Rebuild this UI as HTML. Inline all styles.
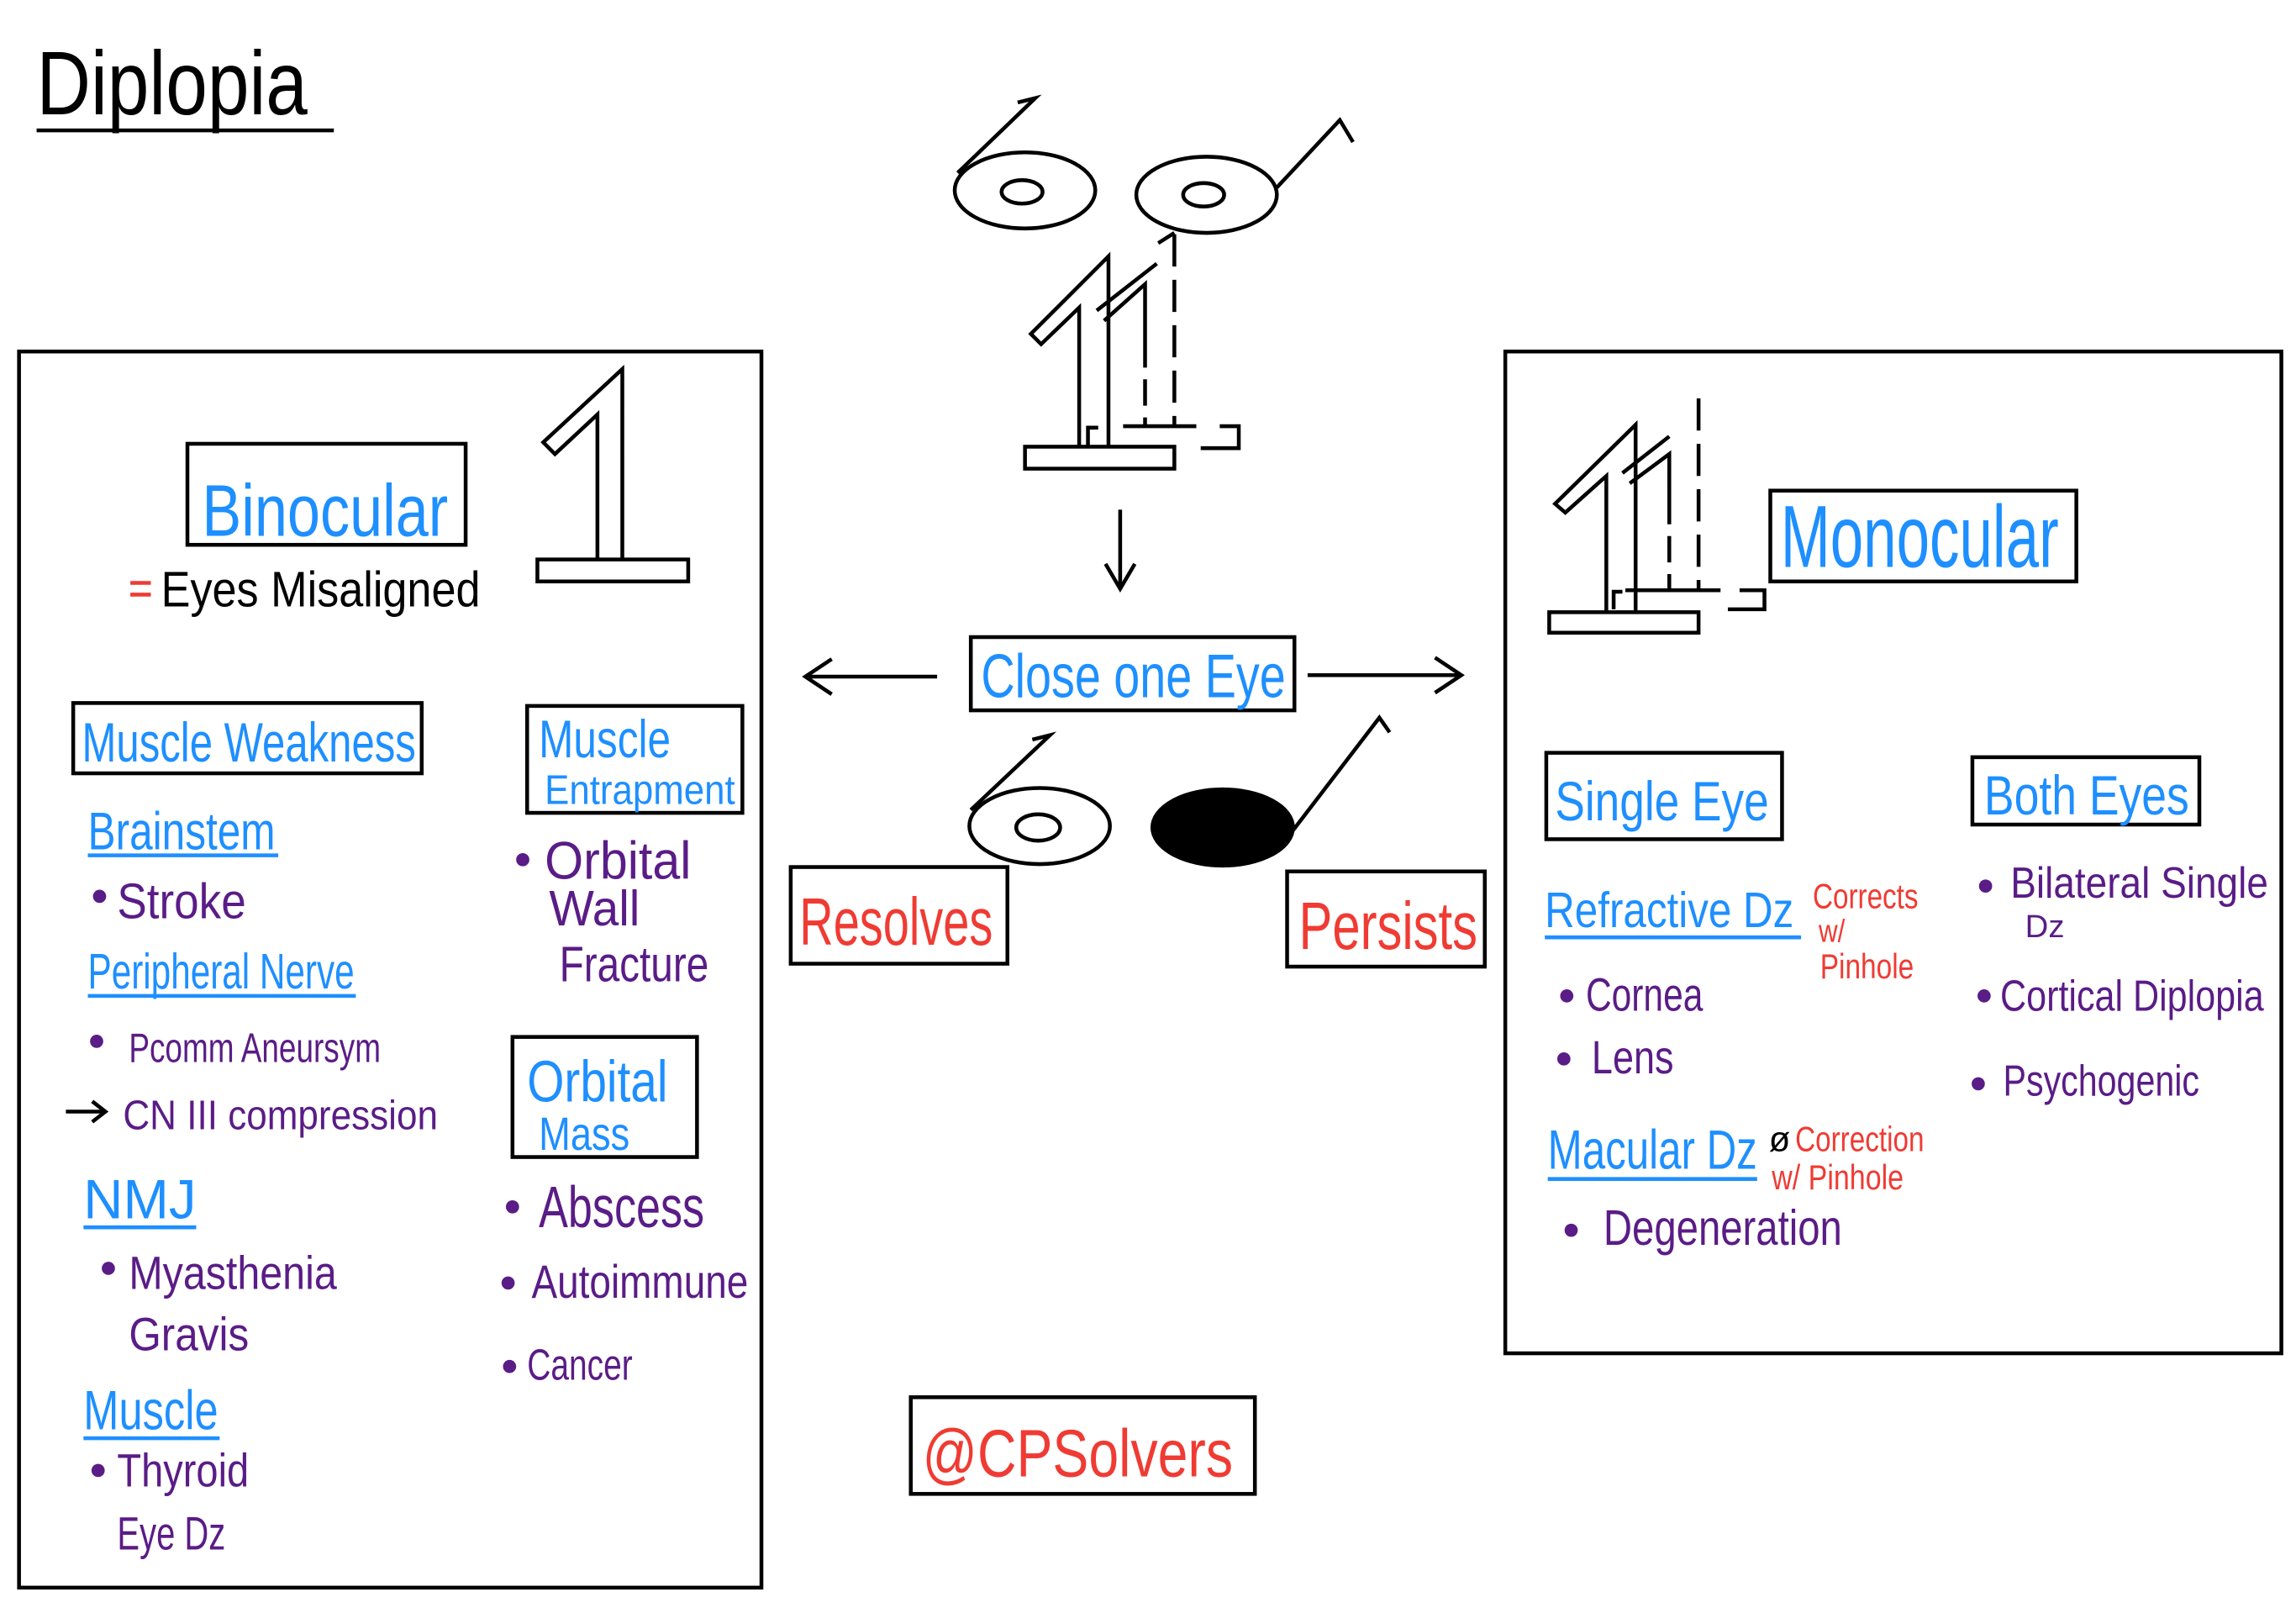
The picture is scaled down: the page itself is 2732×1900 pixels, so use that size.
<!DOCTYPE html>
<html><head><meta charset="utf-8"><style>
html,body{margin:0;padding:0;background:#fff;}
svg{display:block;}
text{font-family:"Liberation Sans",sans-serif;}
.b{fill:#1e8fff}.p{fill:#5a1c86}.r{fill:#ef3b33}.k{fill:#000}
</style></head><body>
<svg width="2732" height="1900" viewBox="0 0 1568 1090.4" preserveAspectRatio="none" xmlns="http://www.w3.org/2000/svg">
<g fill="none" stroke="#000" stroke-width="2.6" stroke-linejoin="miter">
<!-- frames -->
<rect x="13" y="240" width="507" height="844"/>
<rect x="1028" y="240" width="530" height="684"/>
<line x1="25" y1="89" x2="228" y2="89"/>
<!-- boxes -->
<rect x="128" y="303" width="190" height="69"/>
<rect x="50" y="480" width="238" height="48"/>
<rect x="360" y="482" width="147" height="73"/>
<rect x="350" y="708" width="126" height="82"/>
<rect x="663" y="435" width="221" height="50"/>
<rect x="540" y="592" width="148" height="66"/>
<rect x="879" y="595" width="135" height="65"/>
<rect x="622" y="954" width="235" height="66"/>
<rect x="1209" y="335" width="209" height="62"/>
<rect x="1056" y="514" width="161" height="59"/>
<rect x="1347" y="517" width="155" height="46"/>
<!-- big 1 left -->
<path d="M408,382 L408,283 L379,310 L371,302 L425,252 L425,382"/>
<rect x="367" y="382" width="103" height="15"/>
<!-- top eyes -->
<ellipse cx="700" cy="130" rx="48" ry="26"/>
<ellipse cx="698" cy="131" rx="14" ry="8"/>
<ellipse cx="824" cy="133" rx="48" ry="26"/>
<ellipse cx="822" cy="133" rx="14" ry="8"/>
<polyline points="654,118 707,67 695,70"/>
<polyline points="872,128 915,82 924,97"/>
<!-- center 11 -->
<path d="M737,305 L737,210 L711,235 L704,228 L757,175 L757,305"/>
<path d="M749,212 L790,180 M754,219 L782,194 L782,233"/>
<line x1="782" y1="233" x2="782" y2="290" stroke-dasharray="18,8"/>
<line x1="802" y1="160" x2="802" y2="290" stroke-dasharray="22,9"/>
<polyline points="791,166 802,159"/>
<rect x="700" y="305" width="102" height="15"/>
<line x1="767" y1="291" x2="817" y2="291"/>
<polyline points="820,306 846,306 846,291 833,291"/>
<polyline points="743,305 743,292 750,292"/>
<!-- arrows -->
<line x1="765" y1="348" x2="765" y2="402"/>
<polyline points="755,385 765,402 775,385"/>
<line x1="640" y1="462" x2="550" y2="462"/>
<polyline points="568,450 550,462 568,474"/>
<line x1="893" y1="461" x2="998" y2="461"/>
<polyline points="980,449 998,461 980,473"/>
<polyline points="45,759 72,759"/>
<polyline points="63,752 72,759 63,766"/>
<!-- bottom eyes -->
<ellipse cx="710" cy="564" rx="48" ry="26"/>
<ellipse cx="709" cy="565" rx="15" ry="9"/>
<polyline points="663,553 717,502 705,505"/>
<ellipse cx="835" cy="565" rx="48" ry="26" fill="#000"/>
<polyline points="883,567 942,490 949,500"/>
<!-- right 11 -->
<path d="M1097,418 L1097,325 L1069,350 L1062,344 L1117,290 L1117,418"/>
<path d="M1108,323 L1140,298 M1113,330 L1140,310 L1140,340"/>
<line x1="1140" y1="340" x2="1140" y2="403" stroke-dasharray="18,8"/>
<line x1="1160" y1="272" x2="1160" y2="403" stroke-dasharray="22,9"/>
<rect x="1058" y="418" width="102" height="14"/>
<line x1="1110" y1="403" x2="1175" y2="403"/>
<polyline points="1180,416 1205,416 1205,403 1188,403"/>
<polyline points="1102,416 1102,404 1108,404"/>
</g>
<!-- underlines -->
<g stroke="#1e8fff" stroke-width="2.6">
<line x1="60" y1="584" x2="190" y2="584"/>
<line x1="60" y1="680" x2="243" y2="680"/>
<line x1="57" y1="838" x2="134" y2="838"/>
<line x1="57" y1="982" x2="150" y2="982"/>
<line x1="1055" y1="640" x2="1230" y2="640"/>
<line x1="1057" y1="805" x2="1200" y2="805"/>
</g>
<g stroke="#ef3b33" stroke-width="2.6"><line x1="89" y1="398" x2="103" y2="398"/><line x1="89" y1="406" x2="103" y2="406"/></g>
<!-- bullets -->
<g fill="#5a1c86">
<circle cx="68" cy="612" r="4.5"/><circle cx="66" cy="711" r="4.5"/><circle cx="74" cy="866" r="4.5"/><circle cx="67" cy="1004" r="4.5"/>
<circle cx="357" cy="587" r="4.5"/><circle cx="350" cy="824" r="4.5"/><circle cx="347" cy="876" r="4.5"/><circle cx="348" cy="933" r="4.5"/>
<circle cx="1070" cy="680" r="4.5"/><circle cx="1068" cy="723" r="4.5"/><circle cx="1073" cy="840" r="4.5"/>
<circle cx="1356" cy="605" r="4.5"/><circle cx="1355" cy="680" r="4.5"/><circle cx="1351" cy="740" r="4.5"/>
</g>
<!-- text -->
<text x="25" y="78" font-size="62" class="k" textLength="185" lengthAdjust="spacingAndGlyphs">Diplopia</text>
<text x="138" y="366" font-size="50" class="b" textLength="168" lengthAdjust="spacingAndGlyphs">Binocular</text>
<text x="110" y="414" font-size="34" class="k" textLength="218" lengthAdjust="spacingAndGlyphs">Eyes Misaligned</text>
<text x="56" y="520" font-size="38" class="b" textLength="228" lengthAdjust="spacingAndGlyphs">Muscle Weakness</text>
<text x="60" y="580" font-size="36" class="b" textLength="128" lengthAdjust="spacingAndGlyphs">Brainstem</text>
<text x="80" y="627" font-size="34" class="p" textLength="88" lengthAdjust="spacingAndGlyphs">Stroke</text>
<text x="60" y="675" font-size="34" class="b" textLength="182" lengthAdjust="spacingAndGlyphs">Peripheral Nerve</text>
<text x="88" y="725" font-size="28" class="p" textLength="172" lengthAdjust="spacingAndGlyphs">Pcomm Aneursym</text>
<text x="84" y="771" font-size="28" class="p" textLength="215" lengthAdjust="spacingAndGlyphs">CN III compression</text>
<text x="57" y="832" font-size="38" class="b" textLength="77" lengthAdjust="spacingAndGlyphs">NMJ</text>
<text x="88" y="880" font-size="32" class="p" textLength="142" lengthAdjust="spacingAndGlyphs">Myasthenia</text>
<text x="88" y="922" font-size="32" class="p" textLength="82" lengthAdjust="spacingAndGlyphs">Gravis</text>
<text x="57" y="976" font-size="38" class="b" textLength="92" lengthAdjust="spacingAndGlyphs">Muscle</text>
<text x="80" y="1015" font-size="32" class="p" textLength="90" lengthAdjust="spacingAndGlyphs">Thyroid</text>
<text x="80" y="1058" font-size="32" class="p" textLength="74" lengthAdjust="spacingAndGlyphs">Eye Dz</text>
<text x="368" y="517" font-size="36" class="b" textLength="90" lengthAdjust="spacingAndGlyphs">Muscle</text>
<text x="372" y="549" font-size="28" class="b" textLength="130" lengthAdjust="spacingAndGlyphs">Entrapment</text>
<text x="372" y="600" font-size="36" class="p" textLength="100" lengthAdjust="spacingAndGlyphs">Orbital</text>
<text x="375" y="632" font-size="34" class="p" textLength="62" lengthAdjust="spacingAndGlyphs">Wall</text>
<text x="382" y="670" font-size="34" class="p" textLength="102" lengthAdjust="spacingAndGlyphs">Fracture</text>
<text x="360" y="752" font-size="40" class="b" textLength="96" lengthAdjust="spacingAndGlyphs">Orbital</text>
<text x="368" y="785" font-size="32" class="b" textLength="62" lengthAdjust="spacingAndGlyphs">Mass</text>
<text x="368" y="838" font-size="40" class="p" textLength="113" lengthAdjust="spacingAndGlyphs">Abscess</text>
<text x="363" y="886" font-size="32" class="p" textLength="148" lengthAdjust="spacingAndGlyphs">Autoimmune</text>
<text x="360" y="942" font-size="30" class="p" textLength="72" lengthAdjust="spacingAndGlyphs">Cancer</text>
<text x="670" y="476" font-size="42" class="b" textLength="208" lengthAdjust="spacingAndGlyphs">Close one Eye</text>
<text x="546" y="645" font-size="46" class="r" textLength="132" lengthAdjust="spacingAndGlyphs">Resolves</text>
<text x="887" y="648" font-size="46" class="r" textLength="122" lengthAdjust="spacingAndGlyphs">Persists</text>
<text x="630" y="1008" font-size="46" class="r" textLength="212" lengthAdjust="spacingAndGlyphs">@CPSolvers</text>
<text x="1216" y="387" font-size="60" class="b" textLength="190" lengthAdjust="spacingAndGlyphs">Monocular</text>
<text x="1062" y="560" font-size="38" class="b" textLength="146" lengthAdjust="spacingAndGlyphs">Single Eye</text>
<text x="1355" y="556" font-size="38" class="b" textLength="140" lengthAdjust="spacingAndGlyphs">Both Eyes</text>
<text x="1055" y="633" font-size="34" class="b" textLength="170" lengthAdjust="spacingAndGlyphs">Refractive Dz</text>
<text x="1238" y="620" font-size="24" class="r" textLength="72" lengthAdjust="spacingAndGlyphs">Corrects</text>
<text x="1242" y="643" font-size="22" class="r" textLength="18" lengthAdjust="spacingAndGlyphs">w/</text>
<text x="1243" y="668" font-size="24" class="r" textLength="64" lengthAdjust="spacingAndGlyphs">Pinhole</text>
<text x="1083" y="690" font-size="32" class="p" textLength="80" lengthAdjust="spacingAndGlyphs">Cornea</text>
<text x="1087" y="733" font-size="32" class="p" textLength="56" lengthAdjust="spacingAndGlyphs">Lens</text>
<text x="1057" y="798" font-size="38" class="b" textLength="143" lengthAdjust="spacingAndGlyphs">Macular Dz</text>
<text x="1208" y="786" font-size="24" class="k">ø</text>
<text x="1226" y="786" font-size="24" class="r" textLength="88" lengthAdjust="spacingAndGlyphs">Correction</text>
<text x="1210" y="812" font-size="24" class="r" textLength="90" lengthAdjust="spacingAndGlyphs">w/ Pinhole</text>
<text x="1095" y="850" font-size="34" class="p" textLength="163" lengthAdjust="spacingAndGlyphs">Degeneration</text>
<text x="1373" y="613" font-size="30" class="p" textLength="176" lengthAdjust="spacingAndGlyphs">Bilateral Single</text>
<text x="1383" y="640" font-size="22" class="p">Dz</text>
<text x="1366" y="690" font-size="30" class="p" textLength="180" lengthAdjust="spacingAndGlyphs">Cortical Diplopia</text>
<text x="1368" y="748" font-size="30" class="p" textLength="134" lengthAdjust="spacingAndGlyphs">Psychogenic</text>
</svg>
</body></html>
